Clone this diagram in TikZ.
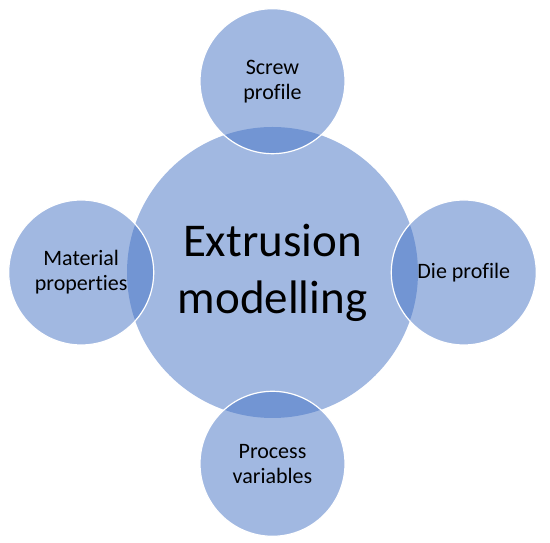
\documentclass[tikz,border=0pt]{standalone}
\usepackage{fontspec}
\setmainfont{Carlito}[Ligatures={NoCommon,NoContextual}]
\usepackage{tikz}
\usetikzlibrary{positioning}
\definecolor{accent}{HTML}{4472C4}

\begin{document}
\begin{tikzpicture}[
		hub/.style={circle, minimum size=291pt, inner sep=0pt, fill=accent, fill opacity=0.5, text opacity=1, align=center, font=\fontsize{47}{57}\selectfont},
		spoke/.style={circle, minimum size=145pt, inner sep=0pt, fill=accent, fill opacity=0.5, text opacity=1, draw=white, draw opacity=1, line width=1.2pt, align=center, font=\fontsize{22}{25}\selectfont},
		node distance=-27.5pt
	]
		\useasboundingbox (0,0) rectangle (550pt,543pt);
		\node[hub] (model) at (272.5pt,270.5pt) {Extrusion\\modelling};
		\node[spoke, above=of model] (screw) {Screw\\profile};
		\node[spoke, left=of model] (material) {Material\\properties};
		\node[spoke, right=of model] (die) {Die profile};
		\node[spoke, below=of model] (process) {Process\\variables};
	\end{tikzpicture}
\end{document}
